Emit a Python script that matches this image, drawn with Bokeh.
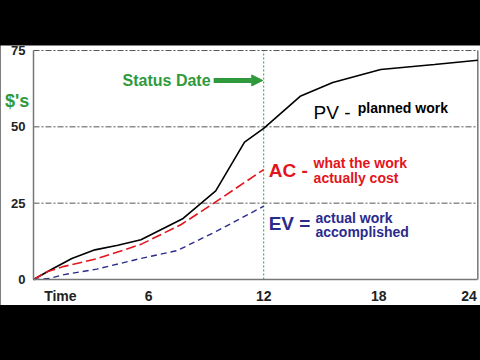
from bokeh.plotting import figure
from bokeh.models import Label, Arrow, NormalHead, FixedTicker, Div
from bokeh.layouts import column
from bokeh.embed import file_html
from bokeh.resources import INLINE

# ---- data ----
pv_x = [0, 1, 2, 3.2, 4.4, 5.6, 7.8, 9.5, 11, 12, 13.9, 15.6, 18.1, 20.9, 23.16]
pv_y = [0, 3.5, 6.9, 9.7, 11.2, 13, 20, 29, 45, 49.5, 60, 64.5, 68.8, 70.4, 71.8]

ac_x = [0, 0.7, 1.6, 3.3, 5.6, 7.7, 9.4, 12]
ac_y = [0, 2.5, 4.3, 6.8, 11.5, 18, 25, 36]

ev_x = [0, 0.8, 1.6, 3.3, 5.6, 7.5, 9.6, 12]
ev_y = [0, 0.3, 1.6, 3.4, 6.9, 9.5, 16, 24]

status_date = 12
x_tick_pos = [1.4, 6, 12, 18, 22.7]
x_tick_labels = ["Time", "6", "12", "18", "24"]
y_ticks = [0, 25, 50, 75]
grid_vals = [25, 50, 75]
x_max = 23.16      # right border of the chart box
y_max = 75

GREEN = "#2f9a3c"
RED = "#e3141c"
NAVY = "#2b2b8c"
FONT = "Liberation Sans"

p = figure(width=480, height=260, x_range=(-1.72, 23.3), y_range=(-8.52, 76.64),
           output_backend="svg", toolbar_location=None,
           min_border_left=0, min_border_right=0, min_border_top=0, min_border_bottom=0)
p.outline_line_color = None
p.background_fill_color = "white"
p.border_fill_color = "white"

# axes (drawn at the data origin, inside the plotting area)
p.xaxis.ticker = FixedTicker(ticks=x_tick_pos)
p.xaxis.major_label_overrides = {pos: lab for pos, lab in zip(x_tick_pos, x_tick_labels)}
p.xaxis.bounds = (0, x_max)
p.xaxis.fixed_location = 0
p.yaxis.ticker = FixedTicker(ticks=y_ticks)
p.yaxis.bounds = (0, y_max)
p.yaxis.fixed_location = 0
for ax in (p.xaxis, p.yaxis):
    ax.axis_line_color = "#777777"
    ax.axis_line_width = 1.5
    ax.major_tick_line_color = None
    ax.minor_tick_line_color = None
    ax.major_tick_out = 0
    ax.major_tick_in = 0
    ax.major_label_text_font = FONT
    ax.major_label_text_font_style = "bold"
    ax.major_label_text_font_size = "14px"
    ax.major_label_text_color = "#222222"
p.xaxis.major_label_standoff = 9
p.yaxis.major_label_standoff = 8
p.yaxis.major_label_text_font_size = "13px"
p.yaxis.major_label_text_baseline = "top"

p.xgrid.visible = False
p.ygrid.visible = False
# horizontal dash-dot guide lines from the y axis to the right border
p.segment(x0=[0] * len(grid_vals), x1=[x_max] * len(grid_vals), y0=grid_vals, y1=grid_vals,
          line_color="#555555", line_dash="6 2 2 2", line_width=1)

# right border of the box and the status-date line
p.segment(x0=[x_max], x1=[x_max], y0=[0], y1=[y_max], line_color="#777777", line_width=1.5)
p.segment(x0=[status_date], x1=[status_date], y0=[0], y1=[y_max], line_color=GREEN,
          line_dash="2 2", line_width=1)

# curves
p.line(pv_x, pv_y, line_color="black", line_width=1.6)
p.line(ac_x, ac_y, line_color=RED, line_width=1.6, line_dash="10 4")
p.line(ev_x, ev_y, line_color=NAVY, line_width=1.4, line_dash="6 4")

# status date arrow
p.add_layout(Arrow(end=NormalHead(size=11, fill_color=GREEN, line_color=GREEN),
                   x_start=9.39, y_start=65.2, x_end=11.95, y_end=65.2,
                   line_color=GREEN, line_width=5))
p.add_layout(Label(x=9.23, y=65.2, text="Status Date", text_font=FONT, text_font_style="bold",
                   text_font_size="16px", text_color=GREEN, text_align="right",
                   text_baseline="middle"))

# "$'s" label left of the y axis
p.add_layout(Label(x=-0.85, y=58.6, text="$'s", text_font=FONT, text_font_style="bold",
                   text_font_size="18px", text_color=GREEN, text_align="center",
                   text_baseline="middle"))

# curve annotations
def lab(x, y, text, color, size, style="bold"):
    p.add_layout(Label(x=x, y=y, text=text, text_font=FONT, text_font_style=style,
                       text_font_size=size, text_color=color, text_align="left",
                       text_baseline="alphabetic"))

lab(14.6, 54.7, "PV -", "black", "19px", "normal")
lab(16.9, 56.3, "planned work", "black", "14px")
lab(12.26, 35.7, "AC -", RED, "19px")
lab(14.6, 38.3, "what the work", RED, "14px")
lab(14.6, 33.1, "actually cost", RED, "14px")
lab(12.26, 18.3, "EV =", NAVY, "19px")
lab(14.7, 20.3, "actual work", NAVY, "14px")
lab(14.7, 15.4, "accomplished", NAVY, "14px")

top_bar = Div(text="", width=480, height=45, margin=0, styles={"background-color": "#000000"})
bottom_bar = Div(text="", width=480, height=55, margin=0, styles={"background-color": "#000000"})
layout = column(top_bar, p, bottom_bar, spacing=0)

html = file_html(layout, INLINE)
html = html.replace("</head>", "<style>html, body { background-color: #000000 !important; }</style></head>", 1)
open("out.html", "w").write(html)
